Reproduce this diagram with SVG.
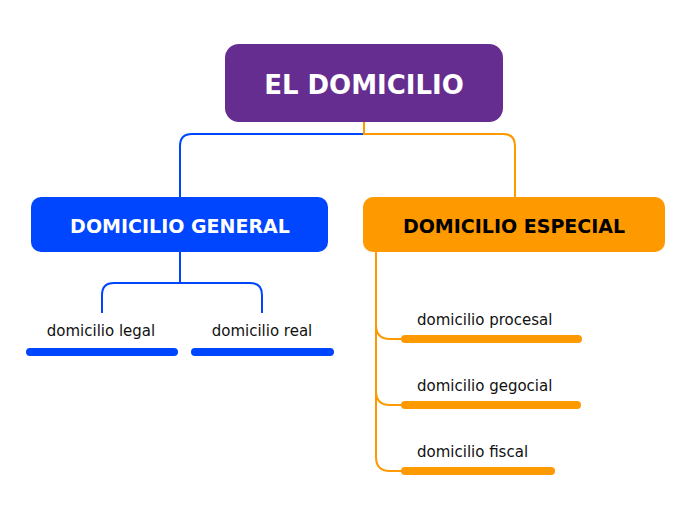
<svg xmlns="http://www.w3.org/2000/svg" width="696" height="520" viewBox="0 0 696 520">
<style>
text{font-family:"DejaVu Sans","Liberation Sans",sans-serif}
.c{fill:none;stroke-width:2}
.b{stroke:#0046ff}.o{stroke:#ff9900}
.bar{stroke-width:8;stroke-linecap:round}
.l{font-size:15px;fill:#111}
</style>
<rect width="696" height="520" fill="#fff"/>
<g id="connectors">
<path class="c b" d="M364 122V134H192Q180 134 180 146V197"/>
<path class="c o" d="M364 122V134H503Q515 134 515 146V197"/>
<path class="c b" d="M180 252V283H114Q102 283 102 295V313M180 283H250Q262 283 262 295V313"/>
<path class="c o" d="M376 252V457Q376 471 390 471H404M376 325Q376 339 390 339H404M376 391Q376 405 390 405H404"/>
</g>
<g id="root"><rect x="225" y="44" width="278" height="78" rx="14" fill="#662d91"/><text x="364" y="94" text-anchor="middle" font-size="26" font-weight="bold" fill="#fff">EL DOMICILIO</text></g>
<g id="general"><rect x="31" y="197" width="297" height="55" rx="10" fill="#0046ff"/><text x="180" y="233" text-anchor="middle" font-size="19" font-weight="bold" fill="#fff">DOMICILIO GENERAL</text></g>
<g id="especial"><rect x="363" y="197" width="302" height="55" rx="10" fill="#ff9900"/><text x="514" y="233" text-anchor="middle" font-size="19" font-weight="bold" fill="#000">DOMICILIO ESPECIAL</text></g>
<g id="legal"><text class="l" x="101" y="336" text-anchor="middle">domicilio legal</text><path class="bar b" d="M30 352H174"/></g>
<g id="real"><text class="l" x="262" y="336" text-anchor="middle">domicilio real</text><path class="bar b" d="M195 352H330"/></g>
<g id="procesal"><text class="l" x="417" y="325">domicilio procesal</text><path class="bar o" d="M405 339H578"/></g>
<g id="gegocial"><text class="l" x="417" y="391">domicilio gegocial</text><path class="bar o" d="M405 405H577"/></g>
<g id="fiscal"><text class="l" x="417" y="457">domicilio fiscal</text><path class="bar o" d="M405 471H551"/></g>
</svg>
